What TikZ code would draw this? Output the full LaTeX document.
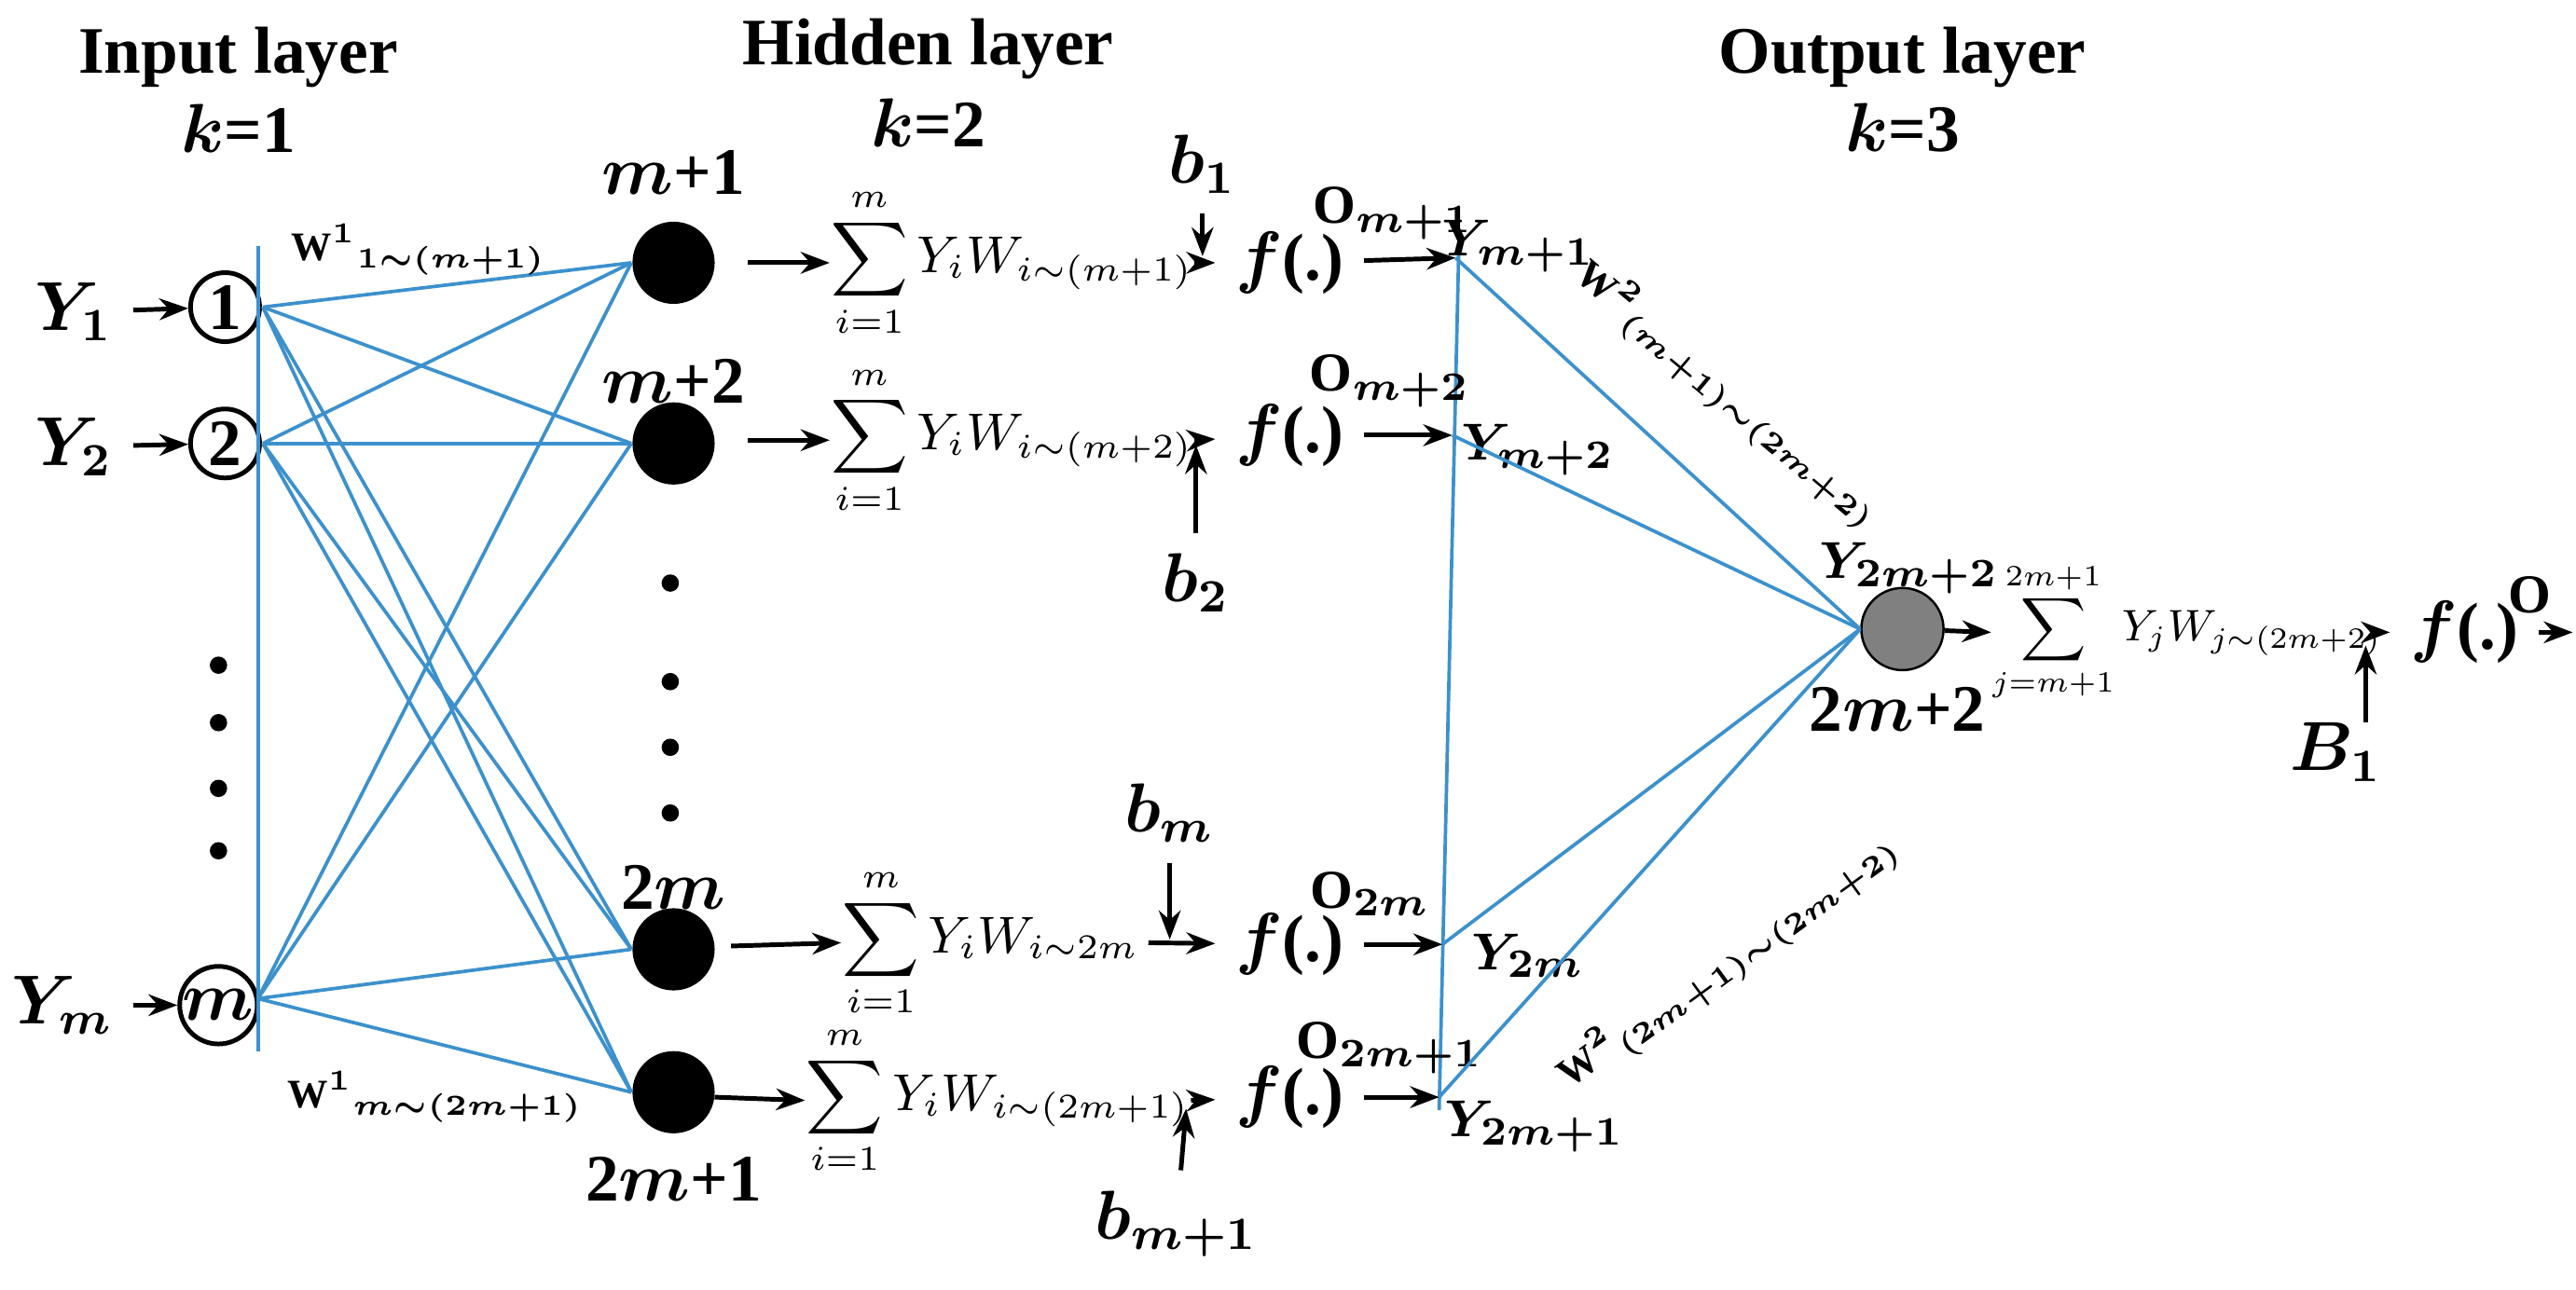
\documentclass[tikz,border=0pt]{standalone}
\usepackage{fontspec}
\setmainfont{Liberation Serif}
\usepackage{amsmath}
\usetikzlibrary{arrows.meta}
\definecolor{lb}{RGB}{60,145,205}
\begin{document}
\begin{tikzpicture}[x=0.01cm,y=-0.01cm,
  every node/.style={font=\bfseries\boldmath\fontsize{11.5}{13}\selectfont},
  ml/.style={font=\bfseries\boldmath\fontsize{9.5}{11}\selectfont},
  inp/.style={circle,draw,thick,minimum size=0.42cm,inner sep=0pt},
  hid/.style={circle,fill=black,minimum size=0.5cm,inner sep=0pt},
  outn/.style={circle,fill=gray,draw=black,minimum size=0.5cm,inner sep=0pt},
  wl/.style={lb,line width=0.6pt},
  ar/.style={-{Stealth[length=5pt]},thick},
  sm/.style={font=\bfseries\boldmath\fontsize{7}{8}\selectfont},
  su/.style={font=\fontsize{9}{10}\selectfont,inner sep=0pt}]
\useasboundingbox (0,0) rectangle (1568,785);
% headers
\node at (145,35) {Input layer};
\node at (145,78) {$k$=1};
\node at (565,30) {Hidden layer};
\node at (565,75) {$k$=2};
\node at (1158,35) {Output layer};
\node at (1158,78) {$k$=3};
% input
\node[inp] (i1) at (137,187) {1};
\node[inp] (i2) at (137,270) {2};
\node[inp] (im) at (133,612) {$m$};
\node (y1) at (45,190) {$Y_1$};
\node (y2) at (45,272) {$Y_2$};
\node (ym) at (38,612) {$Y_m$};
\draw[ar] (y1) -- (i1);
\draw[ar] (y2) -- (i2);
\draw[ar] (ym) -- (im);
\foreach \y in {405,440,480,518} \fill (133,\y) circle (1.5pt);
\coordinate (la) at (157,150); \coordinate (lb) at (157,640);
\draw[wl] (la) -- (lb);
\coordinate (s1) at (160,187); \coordinate (s2) at (160,270); \coordinate (sm) at (157,608);
% hidden
\node[hid] (h1) at (410,160) {};
\node[hid] (h2) at (410,270) {};
\node[hid] (h3) at (410,578) {};
\node[hid] (h4) at (410,665) {};
\node at (410,105) {$m$+1};
\node at (410,232) {$m$+2};
\node at (410,540) {2$m$};
\node at (410,718) {2$m$+1};
\foreach \y in {355,415,455,495} \fill (408,\y) circle (1.5pt);
\foreach \s in {s1,s2,sm} \foreach \h in {h1,h2,h3,h4} \draw[wl] (\s) -- (\h.west);
\node[sm] at (255,152) {W$^1{}_{1\sim(m+1)}$};
\node[sm] at (265,668) {W$^1{}_{m\sim(2m+1)}$};
% sums
\node[su,anchor=west] (q1) at (505,160) {$\displaystyle\sum_{i=1}^{m}Y_i W_{i\sim(m+1)}$};
\node[su,anchor=west] (q2) at (505,268) {$\displaystyle\sum_{i=1}^{m}Y_i W_{i\sim(m+2)}$};
\node[su,anchor=west] (q3) at (512,574) {$\displaystyle\sum_{i=1}^{m}Y_i W_{i\sim2m}$};
\node[su,anchor=west] (q4) at (490,670) {$\displaystyle\sum_{i=1}^{m}Y_i W_{i\sim(2m+1)}$};
\draw[ar] (455,160) -- (q1.west);
\draw[ar] (455,268) -- (q2.west);
\draw[ar] (445,576) -- (q3.west);
\draw[ar] (435,668) -- (q4.west);
\node (f1) at (785,160) {$f$(.)};
\node (f2) at (785,265) {$f$(.)};
\node (f3) at (785,575) {$f$(.)};
\node (f4) at (785,668) {$f$(.)};
\draw[ar] (q1.east) -- (f1);
\draw[ar] (q2.east) -- (f2);
\draw[ar] (q3.east) ++(5,0) -- (f3);
\draw[ar] (q4.east) -- (f4);
\node (b1) at (732,100) {$b_1$};
\node (b2) at (728,355) {$b_2$};
\node (bm) at (712,495) {$b_m$};
\node (bm1) at (716,745) {$b_{m+1}$};
\draw[ar] (b1) -- (732,156);
\draw[ar] (b2) -- (728,271);
\draw[ar] (bm) -- (712,572);
\draw[ar] (bm1) -- (722,675);
% output layer line
\coordinate (o1) at (886,157); \coordinate (o2) at (884,265);
\coordinate (o3) at (878,575); \coordinate (o4) at (876,668);
\draw[wl] (888,150) -- (876,676);
\draw[ar] (f1) -- (o1); \draw[ar] (f2) -- (o2);
\draw[ar] (f3) -- (o3); \draw[ar] (f4) -- (o4);
\node[ml] at (848,130) {O$_{m+1}$};
\node[ml] at (846,232) {O$_{m+2}$};
\node[ml] at (834,544) {O$_{2m}$};
\node[ml] at (846,638) {O$_{2m+1}$};
\node[ml] at (924,150) {$Y_{m+1}$};
\node[ml] at (936,274) {$Y_{m+2}$};
\node[ml] at (930,582) {$Y_{2m}$};
\node[ml] at (934,686) {$Y_{2m+1}$};
\node[outn] (on) at (1158,383) {};
\foreach \o in {o1,o2,o3,o4} \draw[wl] (\o) -- (on.west);
\node[ml] at (1162,346) {$Y_{2m+2}$};
\node at (1155,432) {2$m$+2};
\node[sm,rotate=-40] at (1052,240) {W$^2{}_{(m+1)\sim(2m+2)}$};
\node[sm,rotate=36] at (1052,585) {W$^2{}_{(2m+1)\sim(2m+2)}$};
\node[su,anchor=west,scale=0.85,transform shape] (qo) at (1212,385) {$\displaystyle\sum_{j=m+1}^{2m+1}Y_j W_{j\sim(2m+2)}$};
\draw[ar] (on) -- (qo.west);
\node (fo) at (1500,385) {$f$(.)};
\draw[ar] (qo.east) -- (fo);
\node (B1) at (1422,458) {$B_1$};
\coordinate (bt) at (1440,393);
\draw[ar] (1440,440) -- (bt);
\coordinate (oe) at (1566,385);
\draw[ar] (fo) -- (oe);
\node[ml] at (1540,362) {O};
\end{tikzpicture}
\end{document}
